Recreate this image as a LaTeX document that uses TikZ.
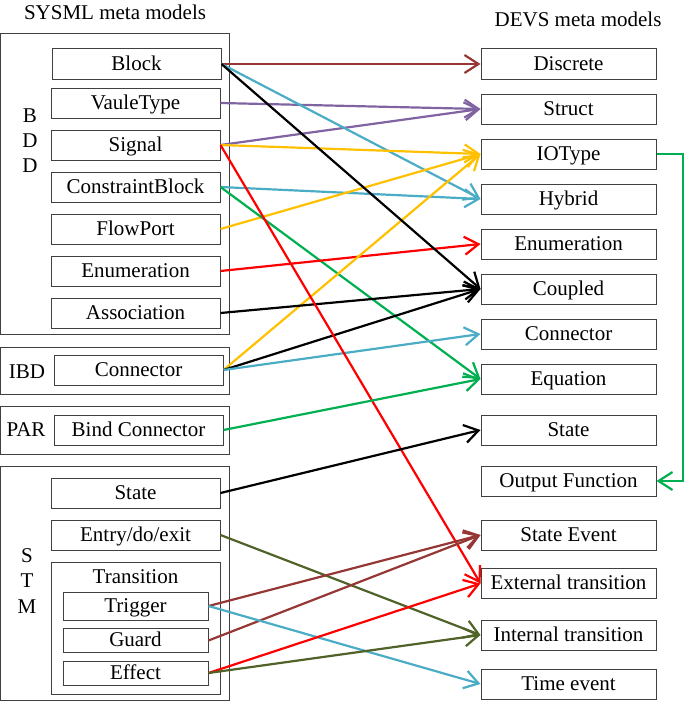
\documentclass[tikz,border=0pt]{standalone}
\usepackage{fontspec}
\setmainfont{Liberation Serif}
\usetikzlibrary{arrows.meta}
\definecolor{cbrown}{RGB}{149,55,53}
\definecolor{cblue}{RGB}{75,172,198}
\definecolor{cpurple}{RGB}{128,100,162}
\definecolor{cyellow}{RGB}{255,192,0}
\definecolor{cred}{RGB}{255,0,0}
\definecolor{cgreen}{RGB}{0,176,80}
\definecolor{colive}{RGB}{79,98,40}
\begin{document}
\begin{tikzpicture}[x=1pt,y=-1pt,
 every node/.style={font=\fontsize{21}{25}\selectfont},
 box/.style={draw=black!75,line width=1pt,inner sep=0pt,minimum height=30pt,text height=16.6pt,text depth=4.4pt},
 lbox/.style={box,minimum width=169pt},
 rbox/.style={box,minimum width=175pt},
 tbox/.style={box,minimum width=145pt},
 lbl/.style={inner sep=0pt,text height=16.6pt,text depth=4.4pt},
 frame/.style={draw=black!75,line width=1pt},
 link/.style={line width=2.2pt,-{Straight Barb[length=14pt,width=18pt]}},
]
\useasboundingbox (0,0) rectangle (685,701);
% titles
\node[lbl] (ltitle) at (115,13) {SYSML meta models};
\node[lbl] (rtitle) at (578,20) {DEVS meta models};
% frames
\draw[frame] (0.6,34) rectangle (229,334);
\draw[frame] (0.6,347) rectangle (229,394);
\draw[frame] (0.6,406) rectangle (229,454);
\draw[frame] (0.6,466) rectangle (229,700);
\draw[frame] (51,562) rectangle (220,694);
% frame labels
\node[lbl] (b1) at (30,116) {B};
\node[lbl] (b2) at (30,141) {D};
\node[lbl] (b3) at (30,166) {D};
\node[lbl] (ibd) at (27,372) {IBD};
\node[lbl] (par) at (26,430) {PAR};
\node[lbl] (s1) at (27,556) {S};
\node[lbl] (s2) at (27,581) {T};
\node[lbl] (s3) at (27,607) {M};
\node[lbl] (trlbl) at (135.5,577) {Transition};
% left boxes
\node[lbox] (lblock) at (136.5,64) {Block};
\node[lbox] (lvalue) at (135.5,103) {VauleType};
\node[lbox] (lsignal) at (135.5,145) {Signal};
\node[lbox] (lconstr) at (135.5,187) {ConstraintBlock};
\node[lbox] (lflow) at (135.5,229) {FlowPort};
\node[lbox] (lenum) at (135.5,271) {Enumeration};
\node[lbox] (lassoc) at (135.5,313) {Association};
\node[lbox] (lconn) at (138.5,370) {Connector};
\node[lbox] (lbind) at (138.5,430) {Bind Connector};
\node[lbox] (lstate) at (135.5,493) {State};
\node[lbox] (lentry) at (135.5,535) {Entry/do/exit};
\node[tbox,minimum height=28pt] (ltrig) at (135.5,606) {Trigger};
\node[tbox,minimum height=24pt] (lguard) at (135.5,640.5) {Guard};
\node[tbox,minimum height=24pt] (leffect) at (135.5,673) {Effect};
% right boxes
\node[rbox] (rdisc) at (568.5,64) {Discrete};
\node[rbox] (rstruct) at (568.5,109) {Struct};
\node[rbox] (rio) at (568.5,154) {IOType};
\node[rbox] (rhyb) at (568.5,199) {Hybrid};
\node[rbox] (renum) at (568.5,244) {Enumeration};
\node[rbox] (rcoup) at (568.5,289) {Coupled};
\node[rbox] (rconn) at (568.5,334) {Connector};
\node[rbox] (requ) at (568.5,379) {Equation};
\node[rbox] (rstate) at (568.5,430) {State};
\node[rbox] (rout) at (568.5,481) {Output Function};
\node[rbox] (rsev) at (568.5,535) {State Event};
\node[rbox] (rext) at (568.5,583.5) {External transition};
\node[rbox] (rint) at (568.5,635) {Internal transition};
\node[rbox] (rtime) at (568.5,684) {Time event};
% links
\draw[link,cbrown] (lblock.east) -- (rdisc.west);
\draw[link,cpurple] (lvalue.east) -- (rstruct.west);
\draw[link,cpurple] (lsignal.east) -- (rstruct.west);
\draw[link,cblue] (lblock.east) -- (rhyb.west);
\draw[link,cyellow] (lsignal.east) -- (rio.west);
\draw[link,cblue] (lconstr.east) -- (rhyb.west);
\draw[link,cyellow] (lflow.east) -- (rio.west);
\draw[link,cgreen] (lconstr.east) -- (requ.west);
\draw[link,cred] (lenum.east) -- (renum.west);
\draw[link,cyellow] (lconn.east) -- (rio.west);
\draw[link,black] (lblock.east) -- (rcoup.west);
\draw[link,black] (lassoc.east) -- (rcoup.west);
\draw[link,black] (lconn.east) -- (rcoup.west);
\draw[link,cblue] (lconn.east) -- (rconn.west);
\draw[link,cred] (lsignal.east) -- (rext.west);
\draw[link,cgreen] (lbind.east) -- (requ.west);
\draw[link,black] (lstate.east) -- (rstate.west);
\draw[link,colive] (lentry.east) -- (rint.west);
\draw[link,cbrown] (ltrig.east) -- (rsev.west);
\draw[link,cbrown] (lguard.east) -- (rsev.west);
\draw[link,cblue] (ltrig.east) -- (rtime.west);
\draw[link,cred] (leffect.east) -- (rext.west);
\draw[link,colive] (leffect.east) -- (rint.west);
\coordinate (elb) at (683,300);
\draw[link,cgreen] (rio.east) -| (elb) |- (rout.east);
\end{tikzpicture}
\end{document}
